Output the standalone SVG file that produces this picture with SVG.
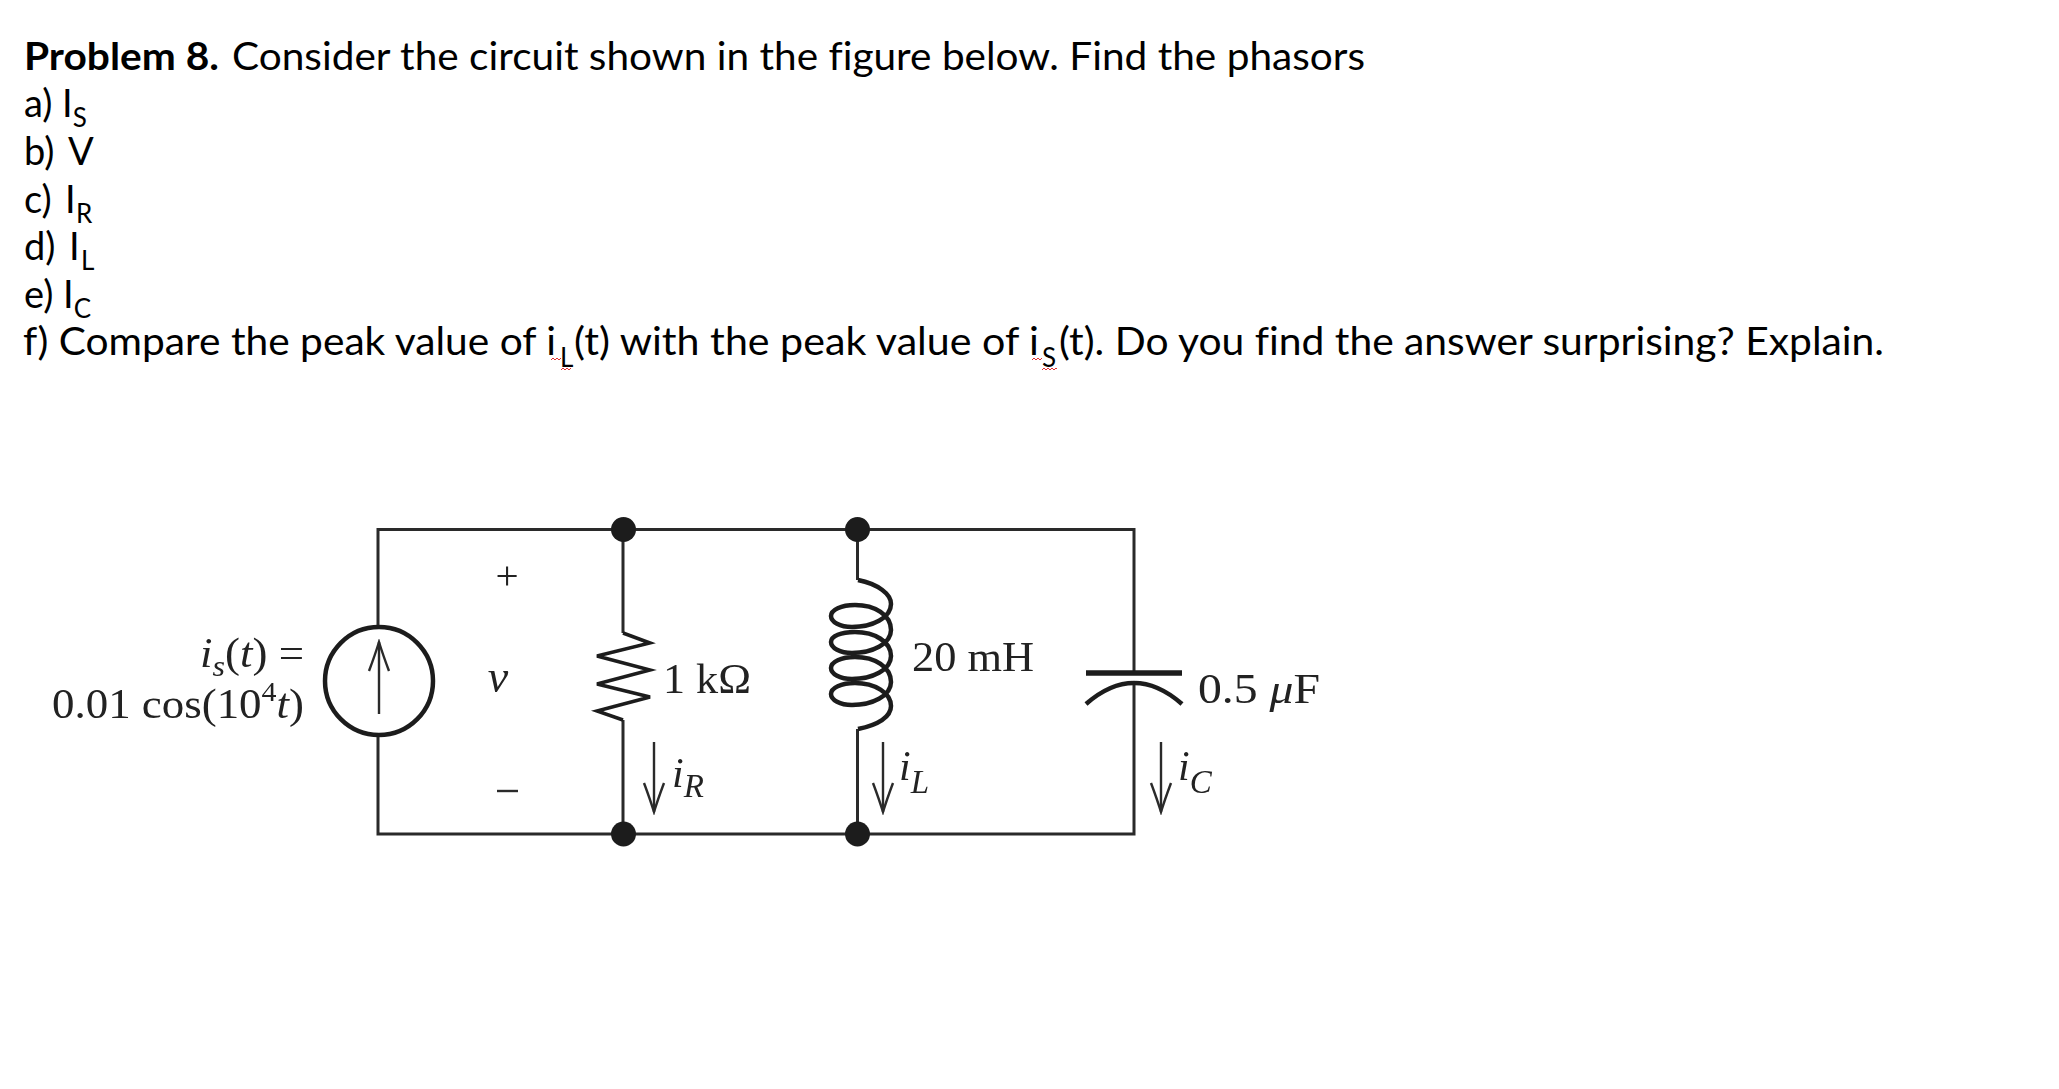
<svg xmlns="http://www.w3.org/2000/svg" width="2059" height="1089" viewBox="0 0 2059 1089">
<defs>
<style>
.t{font-family:"Lato","Carlito","Liberation Sans",sans-serif;font-size:38px;fill:#000;font-variant-ligatures:none}
.b{font-weight:700}
.s{font-size:26px}
.c{font-family:"Liberation Serif","Times New Roman",serif;fill:#222;font-size:42px}
.i{font-style:italic}
.w{fill:none;stroke:#2a2a2a;stroke-width:3}
.h{fill:none;stroke:#1c1c1c;stroke-width:4.5}
.a{fill:none;stroke:#2a2a2a;stroke-width:2.4}
.d{fill:#1c1c1c}
.q{fill:none;stroke:#e03030;stroke-width:1}
</style>
<filter id="soft" x="-5%" y="-5%" width="110%" height="110%"><feGaussianBlur stdDeviation="0.7"/></filter>
<marker id="ah" markerUnits="userSpaceOnUse" markerWidth="34" markerHeight="26" refX="31" refY="13" orient="auto" viewBox="0 0 34 26">
<path d="M2,3 Q18,9 31,13 Q18,17 2,23" fill="none" stroke="#2a2a2a" stroke-width="2.4"/>
</marker>
</defs>
<rect width="2059" height="1089" fill="#fff"/>
<g id="problem-text">
<text class="t b" x="24" y="70" textLength="195" lengthAdjust="spacingAndGlyphs">Problem 8.</text>
<text class="t" x="232" y="70" textLength="1133" lengthAdjust="spacingAndGlyphs">Consider the circuit shown in the figure below. Find the phasors</text>
<text class="t" x="24" y="117">a) I<tspan class="s" dy="10">S</tspan></text>
<text class="t" x="24" y="165">b) <tspan x="68">V</tspan></text>
<text class="t" x="24" y="213">c) <tspan x="65">I</tspan><tspan class="s" x="76" dy="10">R</tspan></text>
<text class="t" x="24" y="260">d) <tspan x="69">I</tspan><tspan class="s" x="81" dy="10">L</tspan></text>
<text class="t" x="24" y="308">e) I<tspan class="s" dy="10">C</tspan></text>
<text class="t" x="23" y="355" textLength="533" lengthAdjust="spacingAndGlyphs">f) Compare the peak value of i</text>
<text class="t s" x="560" y="367">L</text>
<text class="t" x="574" y="355" textLength="465" lengthAdjust="spacingAndGlyphs">(t) with the peak value of i</text>
<text class="t s" x="1042" y="367">S</text>
<text class="t" x="1059" y="355" textLength="825" lengthAdjust="spacingAndGlyphs">(t). Do you find the answer surprising? Explain.</text>
<path class="q" d="M551,360l2,-2 2,2 2,-2 2,2 2,-2M561,370l2,-2 2,2 2,-2 2,2 2,-2M1032,360l2,-2 2,2 2,-2 2,2 2,-2M1042,370l2,-2 2,2 2,-2 2,2 2,-2 2,2 2,-2 1,1"/>
</g>
<g id="connectors" filter="url(#soft)">
<path class="w" d="M378,627V529.500H1134V674M1134,685V834H378V735"/>
<path class="w" d="M623,529.500V633M623,720V834"/>
<path class="w" d="M857.500,529.500V580M857.500,729V834"/>
</g>
<g id="source" filter="url(#soft)">
<ellipse class="h" cx="379" cy="681" rx="54" ry="54"/>
<line class="a" x1="379" y1="714" x2="379" y2="642" marker-end="url(#ah)"/>
<text class="c i" x="200" y="667" textLength="104" lengthAdjust="spacingAndGlyphs" xml:space="preserve">i<tspan font-size="30" dy="9">s</tspan><tspan dy="-9" style="font-style:normal">(</tspan>t<tspan style="font-style:normal">) =</tspan></text>
<text class="c" x="52" y="718" textLength="252" lengthAdjust="spacingAndGlyphs">0.01 cos(10<tspan font-size="28" dy="-17">4</tspan><tspan class="i" dy="17">t</tspan>)</text>
</g>
<g id="voltage" filter="url(#soft)">
<text class="c" x="507" y="589" text-anchor="middle" style="font-size:41px">+</text>
<text class="c i" x="498" y="692" text-anchor="middle" style="font-size:46px">v</text>
<line class="a" x1="497" y1="791" x2="518" y2="791"/>
</g>
<g id="resistor" filter="url(#soft)">
<polyline class="h" style="stroke-width:3.500" points="623,633 650,643 597,656 650,670 597,684 650,697 597,711 623,720"/>
<text class="c" x="663" y="693" textLength="88" lengthAdjust="spacingAndGlyphs">1 kΩ</text>
<line class="a" x1="654" y1="742" x2="654" y2="812" marker-end="url(#ah)"/>
<text class="c i" x="672" y="787">i<tspan font-size="33" dy="10">R</tspan></text>
</g>
<g id="inductor" filter="url(#soft)">
<path class="h" d="M858,580C878,584 891,594 891,604C891,618 872,627 852,627C840,627 831,622 831,616C831,610 841,605 855,605C875,605 891,615 891,630C891,644 872,653 852,653C840,653 831,648 831,642C831,636 841,632 855,632C875,632 891,642 891,656C891,670 872,679 852,679C840,679 831,674 831,668C831,662 841,657 855,657C875,657 891,667 891,682C891,696 872,705 852,705C840,705 831,700 831,694C831,688 841,683 855,683C875,683 891,693 891,706C891,717 878,725 858,729"/>
<text class="c" x="912" y="671" textLength="122" lengthAdjust="spacingAndGlyphs">20 mH</text>
<line class="a" x1="883" y1="742" x2="883" y2="812" marker-end="url(#ah)"/>
<text class="c i" x="899" y="780">i<tspan font-size="33" dy="13">L</tspan></text>
</g>
<g id="capacitor" filter="url(#soft)">
<line class="h" style="stroke-width:5.500" x1="1086" y1="673" x2="1182" y2="673"/>
<path class="h" d="M1086,704Q1134,662 1182,704"/>
<text class="c" x="1198" y="703" textLength="122" lengthAdjust="spacingAndGlyphs">0.5 <tspan class="i">μ</tspan>F</text>
<line class="a" x1="1161" y1="742" x2="1161" y2="812" marker-end="url(#ah)"/>
<text class="c i" x="1178" y="780">i<tspan font-size="33" dy="13">C</tspan></text>
</g>
<g id="junctions" filter="url(#soft)">
<circle class="d" cx="623.500" cy="529.500" r="12.500"/>
<circle class="d" cx="857.500" cy="529.500" r="12.500"/>
<circle class="d" cx="623.500" cy="834" r="12.500"/>
<circle class="d" cx="857.500" cy="834" r="12.500"/>
</g>
</svg>
